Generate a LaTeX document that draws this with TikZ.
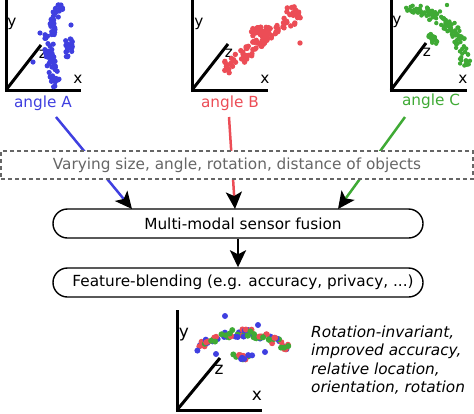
\documentclass[tikz,border=0pt]{standalone}
\usepackage{fontspec}
\setmainfont{DejaVu Sans}
\usetikzlibrary{arrows.meta}
\definecolor{cblue}{HTML}{3F3FE0}
\definecolor{cred}{HTML}{EC4D56}
\definecolor{cgreen}{HTML}{3FAA35}
\definecolor{cgray}{HTML}{666666}
\begin{document}
\begin{tikzpicture}[x=1pt,y=-1pt,
  font=\fontsize{15.3}{18.5}\selectfont,
  axis/.style={line width=3pt,black,line join=miter},
  conn/.style={line width=2.5pt,-{Stealth[length=17pt,width=16pt,inset=4pt,black]}},
  dashbox/.style={draw=cgray,dashed,dash pattern=on 4pt off 3pt,line width=1.1pt,fill=white,text=cgray,minimum width=472pt,minimum height=28pt,inner sep=0pt},
  stadium/.style={draw,line width=1.4pt,rounded corners=14.5pt,minimum width=370pt,minimum height=29pt,inner sep=0pt,fill=white},
  lbl/.style={inner sep=0pt}]
\useasboundingbox (0,0) rectangle (474,413);

% ---- plot A ----
\draw[axis] (6,0) -- (6,90) -- (81,90);
\draw[axis] (6,90) -- (41,45);
\node[lbl] (yA) at (12,24) {y};
\node[lbl] (zA) at (43,54) {z};
\node[lbl] (xA) at (78,79) {x};
\pgfmathsetseed{11}
\foreach \i in {1,...,85}{
  \pgfmathsetmacro\t{rnd}
  \pgfmathsetmacro\px{59-10*sin(180*\t)+5*rand}
  \pgfmathsetmacro\py{6+82*\t+2*rand}
  \fill[cblue] (\px,\py) circle[radius=2.6];
}
\foreach \i in {1,...,20}{
  \pgfmathsetmacro\px{69+3.5*rand}
  \pgfmathsetmacro\py{47+10*rand}
  \fill[cblue] (\px,\py) circle[radius=2.6];
}
\fill[cblue] (33,62) circle[radius=2.6];
\fill[cblue] (40,33) circle[radius=2.6];
\fill[cblue] (61,5) circle[radius=2.6];
\fill[cblue] (71,25) circle[radius=2.6];
\node[lbl,text=cblue] (labA) at (43,103) {angle A};

% ---- plot B ----
\draw[axis] (192,0) -- (192,90) -- (268,90);
\draw[axis] (192,90) -- (228,44);
\node[lbl] (yB) at (199,24) {y};
\node[lbl] (zB) at (229,53) {z};
\node[lbl] (xB) at (265,79) {x};
\pgfmathsetseed{23}
\foreach \i in {1,...,85}{
  \pgfmathsetmacro\t{rnd}
  \pgfmathsetmacro\px{226+74*\t+4*rand}
  \pgfmathsetmacro\py{68-55*\t+6*rand}
  \fill[cred] (\px,\py) circle[radius=2.7];
}
\foreach \i in {1,...,28}{
  \pgfmathsetmacro\px{260+9*rand}
  \pgfmathsetmacro\py{31+5*rand}
  \fill[cred] (\px,\py) circle[radius=2.7];
}
\foreach \i in {1,...,10}{
  \pgfmathsetmacro\px{292+7*rand}
  \pgfmathsetmacro\py{12+6*rand}
  \fill[cred] (\px,\py) circle[radius=2.7];
}
\fill[cred] (300,43) circle[radius=2.7];
\node[lbl,text=cred] (labB) at (230,103) {angle B};

% ---- plot C ----
\draw[axis] (391,0) -- (391,90) -- (467,90);
\draw[axis] (391,90) -- (426,43);
\node[lbl] (yC) at (397,22) {y};
\node[lbl] (zC) at (427,52) {z};
\node[lbl] (xC) at (463,79) {x};
\pgfmathsetseed{37}
\foreach \i in {1,...,130}{
  \pgfmathsetmacro\a{90*rnd}
  \pgfmathsetmacro\px{410+55*cos(\a)+5*rand}
  \pgfmathsetmacro\py{65-55*sin(\a)+5*rand}
  \fill[cgreen] (\px,\py) circle[radius=2.2];
}
\foreach \i in {1,...,30}{
  \pgfmathsetmacro\r{rand}
  \pgfmathsetmacro\s{rand}
  \pgfmathsetmacro\px{433+3*\r+3*\s}
  \pgfmathsetmacro\py{39+5*\s}
  \fill[cgreen] (\px,\py) circle[radius=2.2];
}
\fill[cgreen] (447,5) circle[radius=2.2];
\node[lbl,text=cgreen] (labC) at (431,101) {angle C};

% ---- connectors ----
\coordinate (sA) at (56,117);
\coordinate (sB) at (229,117);
\coordinate (sC) at (405,117);
\coordinate (eA) at (132,209);
\coordinate (eB) at (235,209);
\coordinate (eC) at (338,209);
\draw[conn,cblue] (sA) -- (eA);
\draw[conn,cred] (sB) -- (eB);
\draw[conn,cgreen] (sC) -- (eC);

\node[dashbox] (vary) at (237,165) {Varying size, angle, rotation, distance of objects};

\node[stadium] (fusion) at (238,223.5) {\hspace*{10pt}Multi-modal sensor fusion};
\node[stadium] (feat) at (238,282.5) {\hspace*{10pt}Feature-blending (e.g. accuracy, privacy, ...)};
\draw[conn] (fusion.south) -- (feat.north);

% ---- result plot ----
\draw[axis] (177,310) -- (177,410) -- (262,410);
\draw[axis] (177,410) -- (220,358);
\node[lbl,font=\fontsize{17}{20}\selectfont] (yD) at (184,335) {y};
\node[lbl,font=\fontsize{17}{20}\selectfont] (zD) at (219,370) {z};
\node[lbl,font=\fontsize{17}{20}\selectfont] (xD) at (257,396) {x};
\pgfmathsetseed{51}
\foreach \c in {cblue,cred,cgreen,cblue,cred,cgreen}{
  \foreach \i in {1,...,14}{
    \pgfmathsetmacro\t{rnd}
    \pgfmathsetmacro\px{197+92*\t}
    \pgfmathsetmacro\py{348-15*sin(180*\t)+4*rand}
    \fill[\c] (\px,\py) circle[radius=3];
  }
}
\foreach \c in {cgreen,cred,cblue}{
  \foreach \i in {1,...,5}{
    \pgfmathsetmacro\px{243+11*rand}
    \pgfmathsetmacro\py{357+3*rand}
    \fill[\c] (\px,\py) circle[radius=3];
  }
}
\fill[cblue] (225,316) circle[radius=3];
\fill[cblue] (258,325) circle[radius=3];
\fill[cblue] (216,354) circle[radius=3];
\fill[cblue] (265,352) circle[radius=3];

\node[anchor=west,align=left,inner sep=0pt,font=\fontsize{15.3}{18.5}\selectfont\itshape] (res) at (311,360)
  {Rotation-invariant,\\improved accuracy,\\relative location,\\orientation, rotation};
\end{tikzpicture}
\end{document}
